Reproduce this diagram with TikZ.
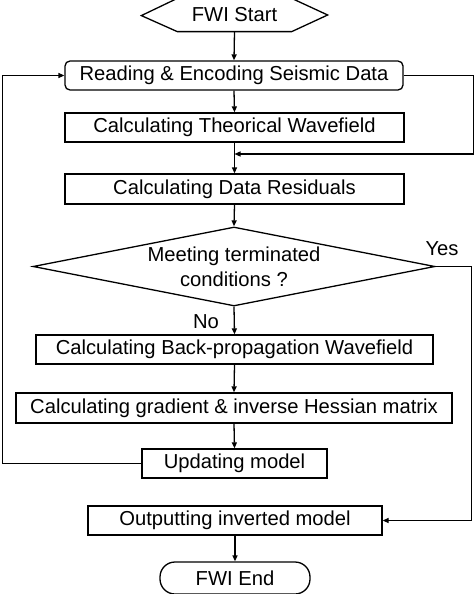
\documentclass[tikz,border=0pt]{standalone}
\usepackage{fontspec}
\setmainfont{Liberation Sans}
\usetikzlibrary{arrows.meta,shapes.geometric}
\begin{document}
\begin{tikzpicture}[x=1pt,y=-1pt,
  line width=1.3pt,
  every node/.style={font=\fontsize{20.2}{25}\selectfont, inner sep=0pt},
  box/.style={draw, rectangle, minimum height=29pt},
  arr/.style={-{Triangle[length=6pt,width=5pt]}}]
\useasboundingbox (0,0) rectangle (474,594);
% start hexagon
\node (start) [minimum width=185pt, minimum height=32pt] at (234.5,15) {FWI Start};
\draw ([yshift=-0.6pt]start.west) -- ([xshift=36pt]start.north west) -- ([xshift=-36pt]start.north east)
  -- (start.east) -- ([xshift=-36pt]start.south east) -- ([xshift=36pt]start.south west) -- cycle;
\node (read) [box, rounded corners=5pt, minimum width=338pt] at (234,75.5) {Reading \& Encoding Seismic Data};
\node (theo) [box, minimum width=339pt] at (234.5,127.5) {Calculating Theorical Wavefield};
\node (resid) [box, minimum width=339pt, minimum height=30pt] at (234.5,189) {Calculating Data Residuals};
\node (dia) [draw, diamond, aspect=5.09, minimum width=402pt, minimum height=79pt, align=center] at (234,266.5) {Meeting terminated\\conditions ?};
\node (back) [box, minimum width=397pt] at (234.5,349.5) {Calculating Back-propagation Wavefield};
\node (grad) [box, minimum width=436pt, minimum height=30pt] at (234,408) {Calculating gradient \& inverse Hessian matrix};
\node (upd) [box, minimum width=185pt] at (234.5,463.5) {Updating model};
\node (out) [box, minimum width=294pt] at (235,520.5) {Outputting inverted model};
\node (end) [draw, rectangle, rounded corners=15pt, minimum width=150pt, minimum height=32pt] at (235,578) {FWI End};
\coordinate (j1) at (234.5,154);
\node (yes) at (442,249) {Yes};
\node (no) at (206,322) {No};
% connectors
\draw[arr] (start.south) -- (read.north);
\draw[arr] (read.south) -- (theo.north);
\draw[arr] (theo.south) -- (resid.north);
\draw[arr] (read.east) -- ++(70,0) |- (j1);
\draw[arr] (resid.south) -- (dia.north);
\draw[arr] (dia.south) -- (back.north);
\draw[arr] (back.south) -- (grad.north);
\draw[arr] (grad.south) -- (upd.north);
\draw[arr] (upd.west) -- ++(-139,0) |- (read.west);
\draw[arr] (dia.east) -- ++(36,0) |- (out.east);
\draw[arr] (out.south) -- (end.north);
\end{tikzpicture}
\end{document}
